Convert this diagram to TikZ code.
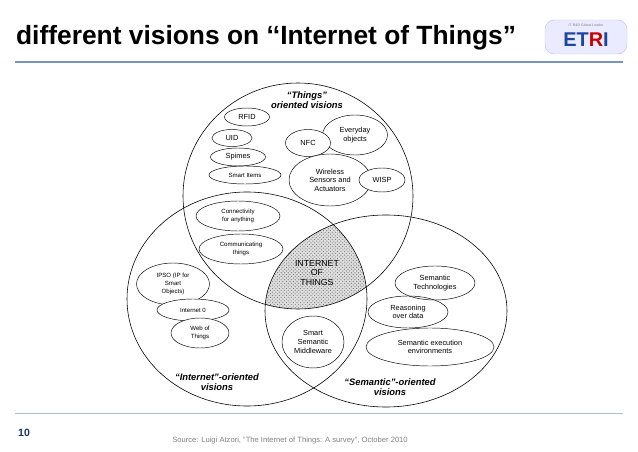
\documentclass[tikz,border=0pt]{standalone}
\usepackage{fontspec}
\setmainfont{Liberation Sans}
\usetikzlibrary{patterns,shapes.geometric}
\definecolor{rulecol}{RGB}{120,150,185}
\definecolor{etriblue}{RGB}{30,70,160}
\def\pu{0.8536pt}
\begin{document}
\begin{tikzpicture}[x=0.03cm, y=-0.03cm,
  vis/.style={draw, ellipse, inner sep=0pt, align=center, font=\fontsize{6.3}{7.3}\selectfont},
  wh/.style 2 args={minimum width=#1*\pu, minimum height=#2*\pu},
  big/.style={draw, line width=0.5pt},
  lab/.style={align=center, font=\fontsize{8}{9}\selectfont\bfseries\itshape}]
  \useasboundingbox (0,0) rectangle (638,452);
  % header
  \node[anchor=west, font=\fontsize{22.5}{24}\selectfont\bfseries] (title) at (12,38) {different visions on ‘‘Internet of Things”};
  \draw[rulecol, line width=1pt] (15,62) -- (623,62);
  \fill[blue!8, draw=blue!25, rounded corners=8pt] (545,20) rectangle (627,54);
  \node[font=\fontsize{3}{3}\selectfont, gray] (lead) at (586,25) {IT R\&D Global Leader};
  \node[font=\fontsize{17}{17}\selectfont\bfseries] (etri) at (586,40) {\textcolor{etriblue}{ET}\textcolor{red!80!black}{R}\textcolor{etriblue}{I}};
  % three visions
  \coordinate (ct) at (298,196);
  \coordinate (cl) at (247,299);
  \coordinate (cr) at (386,311);
  \begin{scope}
    \clip (ct) ellipse [x radius=115, y radius=113];
    \clip (cl) ellipse [x radius=120, y radius=107];
    \fill[gray!25] (cr) ellipse [x radius=121, y radius=96];
    \fill[pattern=crosshatch dots, pattern color=gray!90!black] (cr) ellipse [x radius=121, y radius=96];
  \end{scope}
  \draw[big] (ct) ellipse [x radius=115, y radius=113];
  \draw[big] (cl) ellipse [x radius=120, y radius=107];
  \draw[big] (cr) ellipse [x radius=121, y radius=96];
  \node[lab] (things) at (307,100) {“Things”\\oriented visions};
  \node[lab] (inet) at (217,382) {“Internet”-oriented\\visions};
  \node[lab] (sem) at (390,387) {“Semantic”-oriented\\visions};
  \node[align=center, font=\fontsize{7.5}{8.5}\selectfont] (iot) at (317,273) {INTERNET\\OF\\THINGS};
  % things
  \node[vis, wh={45}{18}] (rfid) at (247,117) {RFID};
  \node[vis, wh={40}{17}] (uid) at (232,138) {UID};
  \node[vis, wh={55}{18}] (spimes) at (238,157) {Spimes};
  \node[vis, wh={72}{18}, font=\fontsize{5.2}{6}\selectfont] (items) at (245,175) {Smart Items};
  \node[vis, wh={65}{40}] (everyday) at (355,135) {Everyday\\objects};
  \node[vis, wh={45}{27}, fill=white] (nfc) at (308,143) {NFC};
  \node[vis, wh={82}{52}, fill=white] (wsa) at (330,180) {Wireless\\Sensors and\\Actuators};
  \node[vis, wh={46}{24}, fill=white] (wisp) at (382,180) {WISP};
  % internet
  \node[vis, wh={84}{30}, font=\fontsize{5.2}{6.8}\selectfont] (conn) at (238,216) {Connectivity\\for anything};
  \node[vis, wh={84}{30}, font=\fontsize{5.2}{6.8}\selectfont] (comm) at (241,249) {Communicating\\things};
  \node[vis, wh={73}{42}, font=\fontsize{5.2}{6.8}\selectfont] (ipso) at (173,284) {IPSO (IP for\\Smart\\Objects)};
  \node[vis, wh={72}{22}, fill=white, font=\fontsize{5.2}{6.8}\selectfont] (inet0) at (193,310) {Internet 0};
  \node[vis, wh={58}{30}, fill=white, font=\fontsize{5.2}{6.8}\selectfont] (web) at (200,333) {Web of\\Things};
  % semantic
  \node[vis, wh={80}{34}] (semtech) at (435,283) {Semantic\\Technologies};
  \node[vis, wh={80}{32}] (reason) at (408,312) {Reasoning\\over data};
  \node[vis, wh={128}{38}] (exec) at (430,347) {Semantic execution\\environments};
  \node[vis, wh={62}{52}] (mid) at (313,342) {Smart\\Semantic\\Middleware};
  % footer
  \draw[rulecol!60, line width=0.6pt] (15,413) -- (623,413);
  \node[anchor=west, font=\fontsize{9}{10}\selectfont\bfseries, etriblue!70!black] (page) at (14,433) {10};
  \node[font=\fontsize{6.5}{7.5}\selectfont, gray] (src) at (290,441) {Source: Luigi Atzori, “The Internet of Things: A survey”, October 2010};
\end{tikzpicture}
\end{document}
